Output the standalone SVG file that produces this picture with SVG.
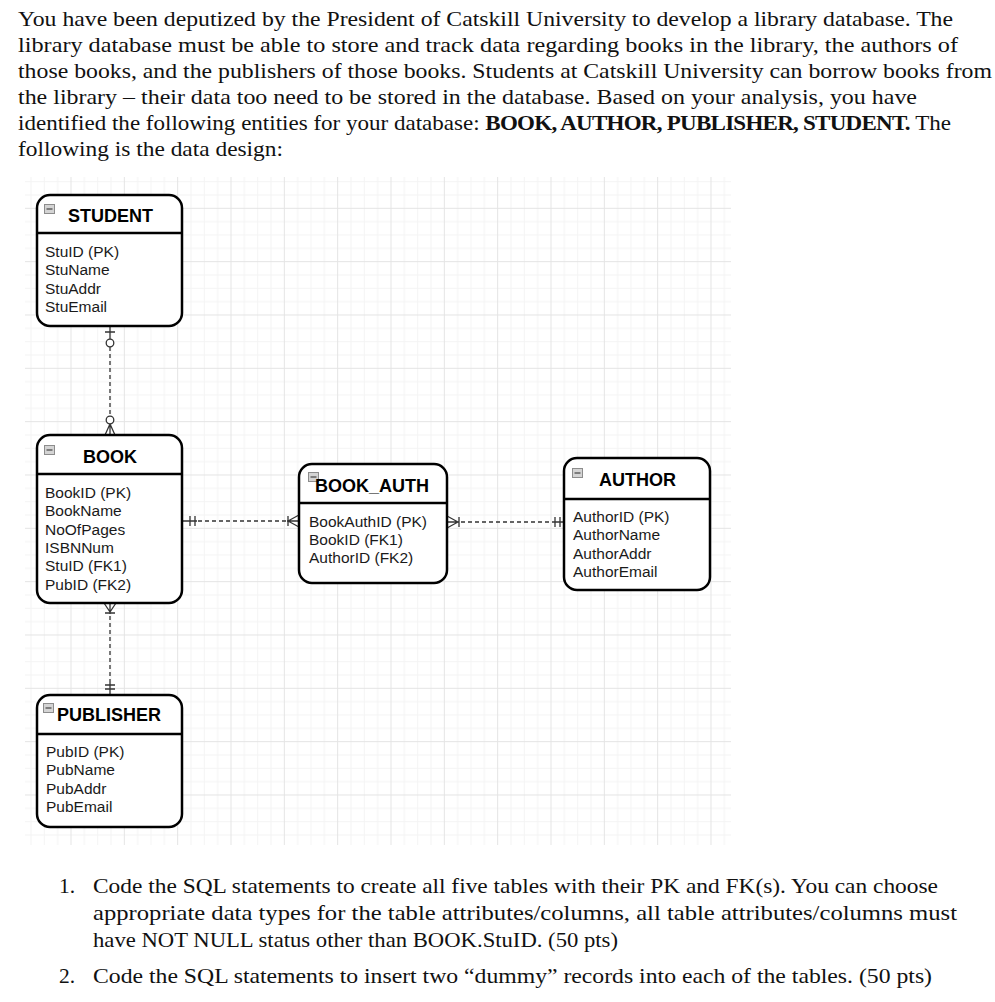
<svg xmlns="http://www.w3.org/2000/svg" width="995" height="1002" viewBox="0 0 995 1002">
<style>
.para{font-family:"Liberation Serif","Times New Roman",serif;font-size:21.5px;fill:#111}
.b{font-weight:bold;letter-spacing:-0.7px}
.ent{fill:#fff;stroke:#000;stroke-width:2.5}
.div{stroke:#000;stroke-width:2.5}
.title{font-family:"Liberation Sans",Arial,sans-serif;font-size:18px;font-weight:bold;fill:#000}
.attr{font-family:"Liberation Sans",Arial,sans-serif;font-size:15.5px;fill:#1a1a1a}
.icon{fill:#d4d4d4;stroke:#8c8c8c;stroke-width:1}
.minus{stroke:#444;stroke-width:1.2}
.ln{stroke:#333;stroke-width:1.3;fill:none}
.dash{stroke-dasharray:4 3}
.circ{fill:#fff;stroke:#333;stroke-width:1.3}
</style>
<defs>
<pattern id="grid" patternUnits="userSpaceOnUse" x="17.17" y="47.83" width="53.333" height="53.333">
<path d="M13.833 0V53.333M27.167 0V53.333M40.5 0V53.333M0 13.833H53.333M0 27.167H53.333M0 40.5H53.333" stroke="#f4f4f4" stroke-width="1"/>
<path d="M0.5 0V53.333M0 0.5H53.333" stroke="#e4e4e4" stroke-width="1"/>
</pattern>
</defs>
<rect width="995" height="1002" fill="#fff"/>
<g id="intro">
<text class="para" x="18" y="26" textLength="935" lengthAdjust="spacingAndGlyphs">You have been deputized by the President of Catskill University to develop a library database. The</text>
<text class="para" x="18" y="52" textLength="940" lengthAdjust="spacingAndGlyphs">library database must be able to store and track data regarding books in the library, the authors of</text>
<text class="para" x="18" y="78" textLength="974" lengthAdjust="spacingAndGlyphs">those books, and the publishers of those books. Students at Catskill University can borrow books from</text>
<text class="para" x="18" y="104" textLength="899" lengthAdjust="spacingAndGlyphs">the library – their data too need to be stored in the database. Based on your analysis, you have</text>
<text class="para" x="18" y="130" textLength="933" lengthAdjust="spacingAndGlyphs">identified the following entities for your database: <tspan class="b">BOOK, AUTHOR, PUBLISHER, STUDENT.</tspan> The</text>
<text class="para" x="18" y="156" textLength="265" lengthAdjust="spacingAndGlyphs">following is the data design:</text>
</g>
<rect id="canvas-grid" x="25" y="177" width="706" height="668" fill="url(#grid)"/>
<g id="connectors">
<g id="c-student-book">
<path class="ln" d="M110 326V339M105 332H115"/>
<circle class="circ" cx="110" cy="343" r="3.8"/>
<path class="ln dash" d="M110 347V416"/>
<circle class="circ" cx="110" cy="420" r="3.8"/>
<path class="ln" d="M110 424V435M110 424L105 435M110 424L115 435"/>
</g>
<g id="c-book-bookauth">
<path class="ln" d="M182 521H197M190 516V526M195 516V526"/>
<path class="ln dash" d="M198 521H287"/>
<path class="ln" d="M287 521H299M288 516V526M288 521L299 515M288 521L299 527"/>
</g>
<g id="c-bookauth-author">
<path class="ln" d="M447 522H459M458 522L447 516M458 522L447 528M459 517V527"/>
<path class="ln dash" d="M461 522H553"/>
<path class="ln" d="M553 522H564M555 517V527M560 517V527"/>
</g>
<g id="c-book-publisher">
<path class="ln" d="M110 603V614M110 612L104 603M110 612L116 603M105 613H115"/>
<path class="ln dash" d="M110 616V683"/>
<path class="ln" d="M110 683V695M105 685H115M105 689H115"/>
</g>
</g>
<g id="STUDENT">
<rect class="ent" x="37" y="195" width="145" height="131" rx="13"/>
<line class="div" x1="37" y1="233" x2="182" y2="233"/>
<rect class="icon" x="44.5" y="204.5" width="10" height="9"/>
<line class="minus" x1="46.5" y1="209" x2="52.5" y2="209"/>
<text class="title" x="110.5" y="222" text-anchor="middle">STUDENT</text>
<text class="attr" x="45" y="257">StuID (PK)</text>
<text class="attr" x="45" y="275">StuName</text>
<text class="attr" x="45" y="293.5">StuAddr</text>
<text class="attr" x="45" y="312">StuEmail</text>
</g>
<g id="BOOK">
<rect class="ent" x="37" y="435" width="145" height="168" rx="13"/>
<line class="div" x1="37" y1="474" x2="182" y2="474"/>
<rect class="icon" x="44.5" y="445.5" width="10" height="9"/>
<line class="minus" x1="46.5" y1="450" x2="52.5" y2="450"/>
<text class="title" x="110" y="463" text-anchor="middle">BOOK</text>
<text class="attr" x="45" y="498">BookID (PK)</text>
<text class="attr" x="45" y="516">BookName</text>
<text class="attr" x="45" y="534.5">NoOfPages</text>
<text class="attr" x="45" y="553">ISBNNum</text>
<text class="attr" x="45" y="571">StuID (FK1)</text>
<text class="attr" x="45" y="589.5">PubID (FK2)</text>
</g>
<g id="BOOK_AUTH">
<rect class="ent" x="299" y="464" width="148" height="119" rx="13"/>
<line class="div" x1="299" y1="503" x2="447" y2="503"/>
<rect class="icon" x="308.5" y="472.5" width="10" height="9"/>
<line class="minus" x1="310.5" y1="477" x2="316.5" y2="477"/>
<text class="title" x="315" y="492">BOOK_AUTH</text>
<text class="attr" x="309" y="527">BookAuthID (PK)</text>
<text class="attr" x="309" y="545">BookID (FK1)</text>
<text class="attr" x="309" y="563">AuthorID (FK2)</text>
</g>
<g id="AUTHOR">
<rect class="ent" x="564" y="458" width="146" height="132" rx="13"/>
<line class="div" x1="564" y1="499" x2="710" y2="499"/>
<rect class="icon" x="572.5" y="468.5" width="10" height="9"/>
<line class="minus" x1="574.5" y1="473" x2="580.5" y2="473"/>
<text class="title" x="637.5" y="486" text-anchor="middle">AUTHOR</text>
<text class="attr" x="573" y="522">AuthorID (PK)</text>
<text class="attr" x="573" y="540">AuthorName</text>
<text class="attr" x="573" y="558.5">AuthorAddr</text>
<text class="attr" x="573" y="577">AuthorEmail</text>
</g>
<g id="PUBLISHER">
<rect class="ent" x="37" y="695" width="145" height="132" rx="13"/>
<line class="div" x1="37" y1="734" x2="182" y2="734"/>
<rect class="icon" x="43.5" y="703.5" width="10" height="9"/>
<line class="minus" x1="45.5" y1="708" x2="51.5" y2="708"/>
<text class="title" x="57" y="721">PUBLISHER</text>
<text class="attr" x="46" y="757">PubID (PK)</text>
<text class="attr" x="46" y="775">PubName</text>
<text class="attr" x="46" y="793.5">PubAddr</text>
<text class="attr" x="46" y="812">PubEmail</text>
</g>
<g id="questions">
<text class="para" x="59" y="893">1.</text>
<text class="para" x="93" y="893" textLength="845" lengthAdjust="spacingAndGlyphs">Code the SQL statements to create all five tables with their PK and FK(s). You can choose</text>
<text class="para" x="93" y="920" textLength="864" lengthAdjust="spacingAndGlyphs">appropriate data types for the table attributes/columns, all table attributes/columns must</text>
<text class="para" x="93" y="947" textLength="525" lengthAdjust="spacingAndGlyphs">have NOT NULL status other than BOOK.StuID. (50 pts)</text>
<text class="para" x="59" y="983">2.</text>
<text class="para" x="93" y="983" textLength="839" lengthAdjust="spacingAndGlyphs">Code the SQL statements to insert two “dummy” records into each of the tables. (50 pts)</text>
</g>
</svg>
